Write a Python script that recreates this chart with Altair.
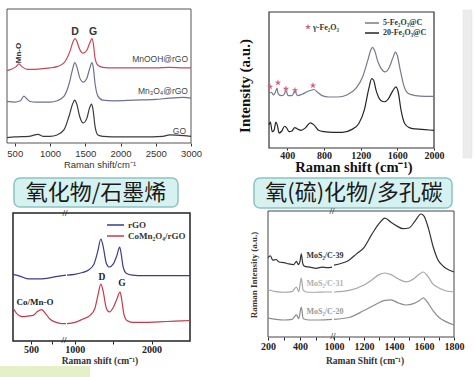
import altair as alt
import pandas as pd

# ---------------- Panel 1: MnOOH / Mn3O4 / GO ----------------
p1_mnooh_x = [390, 450, 520, 560, 600, 680, 800, 900, 1000, 1100, 1200, 1280, 1330, 1355, 1380, 1420, 1470, 1520, 1560, 1595, 1615, 1640, 1680, 1750, 1900, 2200, 2500, 2700, 2900, 3000]
p1_mnooh_y = [54, 55, 57, 59, 57, 55, 55, 55.5, 56, 57, 60, 68, 76, 78, 76, 70, 67, 69, 74, 78, 74, 63, 58, 56.5, 56, 56, 56, 56.5, 56, 56]
p1_mn3o4_x = [390, 500, 580, 630, 670, 720, 800, 1000, 1100, 1200, 1270, 1320, 1350, 1380, 1420, 1470, 1520, 1560, 1595, 1615, 1640, 1680, 1750, 1900, 2200, 2500, 2700, 2900, 3000]
p1_mn3o4_y = [31, 30.5, 31.5, 35, 33, 31, 30.5, 30.5, 31.5, 35, 44, 55, 60, 57, 49, 45.5, 48, 55, 60, 56, 44, 35, 32, 31.5, 32, 32.5, 33.5, 34, 33.5]
p1_go_x = [390, 500, 700, 830, 900, 1000, 1100, 1200, 1270, 1320, 1350, 1380, 1420, 1470, 1520, 1560, 1590, 1610, 1640, 1680, 1750, 2000, 2300, 2600, 2700, 2900, 3000]
p1_go_y = [4, 4.5, 5, 6.5, 5, 5, 6, 10, 20, 29, 32, 29, 20, 15, 18, 26, 29, 25, 12, 6, 5, 4.5, 4.5, 5, 6, 5.5, 5]
p1_ticks = [500, 1000, 1500, 2000, 2500, 3000]

# ---------------- Panel 2: Fe2O3@C ----------------
p2_fe5_x = [200, 225, 250, 270, 287, 300, 330, 360, 385, 410, 450, 484, 510, 560, 620, 660, 690, 730, 780, 850, 950, 1050, 1150, 1220, 1280, 1310, 1330, 1350, 1390, 1440, 1470, 1510, 1550, 1580, 1600, 1630, 1670, 1720, 1800, 1900, 2000]
p2_fe5_y = [40, 41, 39, 41, 44, 40, 38.5, 39, 42, 38.5, 38.5, 41.5, 38.5, 39.5, 41.5, 42.5, 43, 41, 38.5, 37.5, 37.5, 39, 44, 52, 65, 72, 74, 72, 63, 57, 56, 59, 66, 70.5, 68, 58, 46, 40, 38.5, 38, 38]
p2_fe20_x = [200, 215, 235, 255, 275, 290, 310, 340, 370, 390, 420, 450, 480, 510, 550, 600, 650, 690, 740, 800, 900, 1000, 1100, 1180, 1240, 1290, 1320, 1340, 1370, 1420, 1460, 1500, 1550, 1585, 1610, 1640, 1680, 1730, 1800, 1900, 2000]
p2_fe20_y = [17, 19, 12, 13, 19, 17, 11, 12.5, 16, 15, 12, 12.5, 15, 14, 13, 15, 18.5, 17, 13, 12, 11.5, 11.5, 13.5, 18, 28, 44, 51, 50, 42, 35, 34, 36, 42, 45, 41, 28, 18, 15, 14, 13.5, 13]
p2_star_x = [211, 298, 385, 484, 680]
p2_star_y = [45, 48, 43.5, 42.5, 46]
p2_ticks = [400, 800, 1200, 1600, 2000]

# ---------------- Panel 3: CoMn2O4/rGO (broken axis) ----------------
p3_rgo_l_x = [330, 400, 480, 550, 650, 750, 830]
p3_rgo_l_y = [52, 50.5, 48.5, 48.5, 49, 50.5, 51.5]
p3_rgo_r_x = [900, 1000, 1100, 1180, 1250, 1300, 1340, 1370, 1410, 1450, 1500, 1550, 1585, 1605, 1630, 1670, 1750, 1900, 2100, 2300, 2500]
p3_rgo_r_y = [51.5, 52, 53.5, 55.5, 60, 70, 79.7, 74, 61, 57.8, 60, 67, 73.4, 68, 58, 53, 51.5, 51, 51, 51, 51]
p3_co_l_x = [330, 370, 420, 470, 520, 560, 600, 640, 680, 740, 800, 830]
p3_co_l_y = [26, 21, 19, 19.5, 20, 23, 24.5, 21, 17, 14.5, 13.5, 13.5]
p3_co_r_x = [900, 1000, 1100, 1200, 1260, 1300, 1340, 1370, 1410, 1450, 1500, 1550, 1590, 1610, 1640, 1680, 1750, 1900, 2100, 2300, 2500]
p3_co_r_y = [13.5, 14.5, 17, 20, 25, 35, 44.5, 39, 26, 22.7, 26, 33, 38.3, 33, 21, 16, 14.5, 14.5, 15, 15.5, 16]
p3_ticks_l = [500, 700]
p3_ticks_r = [1000, 1500, 2000]

# ---------------- Panel 4: MoS2/C (broken axis) ----------------
p4_c39_l_x = [200, 215, 230, 250, 270, 300, 330, 360, 378, 390, 400, 408, 418, 430, 460, 500, 540, 570, 600]
p4_c39_l_y = [63, 64.5, 61, 61.5, 59.5, 59, 58, 57.5, 60, 57.5, 60, 66, 58, 56, 55.5, 54.5, 55.5, 55, 55.5]
p4_c39_r_x = [1000, 1050, 1100, 1150, 1200, 1250, 1300, 1340, 1380, 1420, 1460, 1500, 1540, 1580, 1600, 1630, 1660, 1690, 1730, 1770, 1800]
p4_c39_r_y = [57, 58.5, 61, 66, 71, 81, 90, 94.4, 91, 88, 86, 86.5, 92, 97.6, 96, 86, 72, 62, 56, 53, 51.6]
p4_c31_l_x = [200, 250, 300, 350, 378, 392, 408, 420, 450, 500, 560, 600]
p4_c31_l_y = [37.5, 36, 35.5, 36, 39.7, 36, 46.8, 37, 35.5, 35.5, 35.7, 35.7]
p4_c31_r_x = [1000, 1100, 1200, 1260, 1300, 1340, 1380, 1430, 1480, 1530, 1570, 1595, 1620, 1660, 1700, 1750, 1800]
p4_c31_r_y = [35.7, 37, 41.3, 46, 49.5, 50.8, 49.5, 46, 43.7, 46, 50, 51.6, 49, 42, 38.9, 36.5, 35.7]
p4_c20_l_x = [200, 250, 300, 350, 378, 392, 408, 420, 460, 520, 600]
p4_c20_l_y = [15, 14, 13.5, 14, 17.5, 14.5, 23.8, 14.5, 13.5, 13.5, 14]
p4_c20_r_x = [1000, 1100, 1200, 1280, 1340, 1380, 1430, 1480, 1530, 1570, 1595, 1620, 1660, 1700, 1750, 1800]
p4_c20_r_y = [14, 15.5, 21, 26, 29, 29.4, 27, 25.4, 26.5, 29, 31, 28, 21, 15.5, 12, 9.5]
p4_ticks_l = [200, 300, 400, 500]
p4_ticks_r = [1000, 1100, 1200, 1300, 1400, 1500, 1600, 1700, 1800]

series_names = ["MnOOH@rGO", "Mn3O4@rGO", "GO", "5-Fe2O3@C", "20-Fe2O3@C",
                "rGO", "CoMn2O4/rGO", "MoS2/C-39", "MoS2/C-31", "MoS2/C-20"]
series_colors = ["#c8475a", "#6d7194", "#3a3a3a", "#767a8c", "#262626",
                 "#3b3b8f", "#c23b4c", "#333333", "#a6a6a6", "#8c8c8c"]

SERIF = "Liberation Serif"
SANS = "Liberation Sans"
STAR = ("M0,-1L0.2245,-0.309L0.951,-0.309L0.363,0.118L0.588,0.809L0,0.382"
        "L-0.588,0.809L-0.363,0.118L-0.951,-0.309L-0.2245,-0.309Z")
blank = alt.Data(values=[{"k": 0}])


def frame(series):
    rows = []
    for name, xs, ys in series:
        rows += [{"series": name, "x": a, "y": b} for a, b in zip(xs, ys)]
    return pd.DataFrame(rows)


def lines(series, xdom, xrng, ydom, yrng, axis, sw=1.2):
    return alt.Chart(frame(series)).mark_line(interpolate="monotone", strokeWidth=sw).encode(
        x=alt.X("x:Q", scale=alt.Scale(domain=xdom, range=xrng, nice=False, zero=False), axis=axis),
        y=alt.Y("y:Q", scale=alt.Scale(domain=ydom, range=yrng, nice=False, zero=False), axis=None),
        color=alt.Color("series:N", scale=alt.Scale(domain=series_names, range=series_colors), legend=None),
        detail="series:N",
    )


def xaxis(values, offset, font, size, weight, labels=None, pad=1, color="#222", tick=3):
    kw = dict(values=values, orient="bottom", offset=offset, domain=False, grid=False, format="d",
              tickSize=tick, tickColor=color, labelColor=color, labelFont=font, labelFontSize=size,
              labelFontWeight=weight, labelPadding=pad, labelFlush=False, labelOverlap=False,
              labelBound=False, title=None)
    if labels is not None:
        kw["labelExpr"] = labels
    return alt.Axis(**kw)


def txt(text, x, y, size=9, font=SERIF, weight="bold", color="#222", angle=0, align="center"):
    return alt.Chart(blank).mark_text(text=text, fontSize=size, font=font, fontWeight=weight,
                                      color=color, angle=angle, align=align, baseline="middle").encode(
        x=alt.value(x), y=alt.value(y))


def box(x0, x1, y0, y1, stroke="#444", sw=1.0, fill=None, radius=0):
    kw = dict(stroke=stroke, strokeWidth=sw, cornerRadius=radius)
    if fill is None:
        kw["fillOpacity"] = 0
        kw["fill"] = "white"
    else:
        kw["fill"] = fill
    return alt.Chart(blank).mark_rect(**kw).encode(
        x=alt.value(x0), x2=alt.value(x1), y=alt.value(y0), y2=alt.value(y1))


def hline(x0, x1, y, color, sw=1.5):
    return alt.Chart(blank).mark_rule(color=color, strokeWidth=sw).encode(
        x=alt.value(x0), x2=alt.value(x1), y=alt.value(y))


H = 377
layers = []

# background decorations
layers.append(box(0, 90, 366, 377, stroke="#ffffff", sw=0, fill="#e4f0c8"))
layers.append(box(463, 472, 10, 158, stroke="#e2e2e2", sw=0.5, fill="#ececec"))

# ---- Panel 1 ----
Y1 = [143, 9]
layers.append(box(7, 191, 9, 143, stroke="#555", sw=1.0))
layers.append(lines([("MnOOH@rGO", p1_mnooh_x, p1_mnooh_y),
                     ("Mn3O4@rGO", p1_mn3o4_x, p1_mn3o4_y),
                     ("GO", p1_go_x, p1_go_y)],
                    [390, 3000], [7, 191], [0, 100], Y1,
                    xaxis(p1_ticks, 143 - H, SANS, 9.5, "normal", pad=2, color="#333")))
layers += [
    txt("Mn-O", 19, 53, size=8, font=SANS, weight="bold", color="#333", angle=270),
    txt("D", 75, 32, size=10.5, font=SANS, weight="bold", color="#333"),
    txt("G", 93, 32, size=10.5, font=SANS, weight="bold", color="#333"),
    txt("MnOOH@rGO", 188, 59, size=8.5, font=SANS, weight="normal", color="#444", align="right"),
    txt("Mn₃O₄@rGO", 188, 91, size=8.5, font=SANS, weight="normal", color="#444", align="right"),
    txt("GO", 186, 131, size=8.5, font=SANS, weight="normal", color="#444", align="right"),
    txt("Raman shift/cm⁻¹", 100, 165, size=9.5, font=SANS, weight="normal", color="#333"),
]

# ---- Panel 2 ----
Y2 = [148, 12]
layers.append(box(269, 434, 12, 148, stroke="#333", sw=1.2))
layers.append(lines([("5-Fe2O3@C", p2_fe5_x, p2_fe5_y),
                     ("20-Fe2O3@C", p2_fe20_x, p2_fe20_y)],
                    [200, 2000], [269, 434], [0, 100], Y2,
                    xaxis(p2_ticks, 148 - H, SERIF, 10, "bold", pad=0, tick=2)))
layers.append(alt.Chart(pd.DataFrame({"x": p2_star_x, "y": p2_star_y})).mark_point(
    shape=STAR, filled=True, size=45, color="#d0607a", opacity=1).encode(
    x=alt.X("x:Q", scale=alt.Scale(domain=[200, 2000], range=[269, 434], nice=False, zero=False), axis=None),
    y=alt.Y("y:Q", scale=alt.Scale(domain=[0, 100], range=Y2, nice=False, zero=False), axis=None)))
layers.append(alt.Chart(blank).mark_point(shape=STAR, filled=True, size=40, color="#d0607a", opacity=1).encode(
    x=alt.value(308), y=alt.value(27)))
layers += [
    txt("γ-Fe₂O₃", 313, 28, size=8, color="#333", align="left"),
    hline(365, 379, 23, "#767a8c"),
    txt("5-Fe₂O₃@C", 383, 23, size=8, color="#333", align="left"),
    hline(365, 379, 33, "#262626"),
    txt("20-Fe₂O₃@C", 383, 33, size=8, color="#333", align="left"),
    txt("Raman shift (cm⁻¹)", 354, 168, size=14.5, color="#111"),
    txt("Intensity (a.u.)", 245, 86, size=15, color="#111", angle=270),
]

# ---- Text boxes ----
layers += [
    box(14, 178, 178, 207, stroke="#8cc3c3", sw=1.5, fill="#d6f2f0", radius=6),
    txt("氧化物/石墨烯", 96, 192.5, size=22, font="Noto Sans CJK SC", weight="normal", color="#1a1a1a"),
    box(254, 452, 178, 208, stroke="#8cc3c3", sw=1.5, fill="#d6f2f0", radius=6),
    txt("氧(硫)化物/多孔碳", 354, 193, size=22, font="Noto Sans CJK SC", weight="normal", color="#1a1a1a"),
]

# ---- Panel 3 ----
Y3 = [341, 213]
layers.append(box(13, 190, 213, 341, stroke="#222", sw=1.5))
layers.append(lines([("rGO", p3_rgo_l_x, p3_rgo_l_y), ("CoMn2O4/rGO", p3_co_l_x, p3_co_l_y)],
                    [330, 830], [13, 66], [0, 100], Y3,
                    xaxis(p3_ticks_l, 341 - H, SERIF, 10, "bold", pad=0,
                          labels="datum.value == 500 ? '500' : ''")))
layers.append(lines([("rGO", p3_rgo_r_x, p3_rgo_r_y), ("CoMn2O4/rGO", p3_co_r_x, p3_co_r_y)],
                    [900, 2500], [67, 190], [0, 100], Y3,
                    xaxis(p3_ticks_r, 341 - H, SERIF, 10, "bold", pad=0,
                          labels="datum.value == 1500 ? '' : datum.label")))
layers += [
    txt("//", 65, 213, size=9, color="#222"),
    txt("//", 64, 340, size=9, color="#222"),
    hline(107, 124, 225, "#3b3b8f"),
    txt("rGO", 128, 225, size=9, color="#333", align="left"),
    hline(107, 124, 236, "#c23b4c"),
    txt("CoMn₂O₄/rGO", 128, 236, size=9, color="#333", align="left"),
    txt("D", 102, 277, size=9.5, color="#222"),
    txt("G", 122, 283, size=9.5, color="#222"),
    txt("Co/Mn-O", 35, 302, size=9, color="#222"),
    txt("Raman shift (cm⁻¹)", 100, 361, size=9.5, color="#333"),
]

# ---- Panel 4 ----
Y4 = [337, 211]
layers.append(box(268, 454, 211, 337, stroke="#444", sw=1.0))
layers.append(lines([("MoS2/C-39", p4_c39_l_x, p4_c39_l_y),
                     ("MoS2/C-31", p4_c31_l_x, p4_c31_l_y),
                     ("MoS2/C-20", p4_c20_l_x, p4_c20_l_y)],
                    [200, 600], [268, 332], [0, 100], Y4,
                    xaxis(p4_ticks_l, 337 - H, SERIF, 10, "bold", pad=1,
                          labels="datum.value == 200 || datum.value == 400 ? datum.label : ''")))
layers.append(lines([("MoS2/C-39", p4_c39_r_x, p4_c39_r_y),
                     ("MoS2/C-31", p4_c31_r_x, p4_c31_r_y),
                     ("MoS2/C-20", p4_c20_r_x, p4_c20_r_y)],
                    [1000, 1800], [334, 454], [0, 100], Y4,
                    xaxis(p4_ticks_r, 337 - H, SERIF, 10, "bold", pad=1,
                          labels="datum.value % 200 == 0 ? datum.label : ''")))
layers += [
    txt("//", 332, 211, size=9, color="#333"),
    txt("//", 333, 336, size=9, color="#333"),
    txt("MoS₂/C-39", 325, 256, size=8, color="#333"),
    txt("MoS₂/C-31", 325, 284, size=8, color="#b0b0b0"),
    txt("MoS₂/C-20", 325, 312, size=8, color="#9a9a9a"),
    txt("Raman Intensity (a.u.)", 254, 275, size=9, color="#333", angle=270),
    txt("Raman Shift (cm⁻¹)", 365, 361, size=9.5, color="#333"),
]

chart = alt.layer(*layers).resolve_scale(
    x="independent", y="independent"
).properties(
    width=474, height=377, padding=0, background="white",
    autosize=alt.AutoSizeParams(type="none"),
).configure_view(stroke=None).configure_axis(grid=False)

chart.save("out.html", embed_options={"renderer": "svg", "actions": False})
